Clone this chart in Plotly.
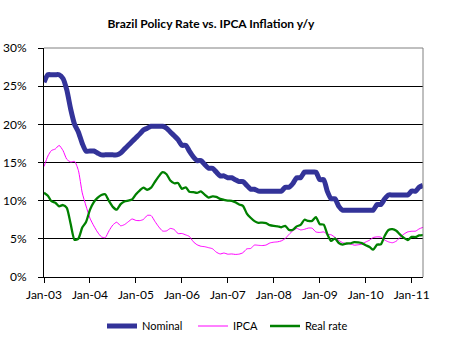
import pandas as pd
import plotly.graph_objects as go

# Monthly observations, Jan-2003 .. Apr-2011
start_month = "2003-01-01"
n_months = 100
months = pd.date_range(start_month, periods=n_months, freq="MS")

# Selic policy rate target (%)
nominal = [
    25.5, 26.5, 26.5, 26.5, 26.5, 26.0, 24.5, 22.0, 20.0, 19.0, 17.5, 16.5,
    16.5, 16.5, 16.25, 16.0, 16.0, 16.0, 16.0, 16.0, 16.25, 16.75, 17.25, 17.75,
    18.25, 18.75, 19.25, 19.5, 19.75, 19.75, 19.75, 19.75, 19.5, 19.0, 18.5, 18.0,
    17.25, 17.25, 16.5, 15.75, 15.25, 15.25, 14.75, 14.25, 14.25, 13.75, 13.25, 13.25,
    13.0, 13.0, 12.75, 12.5, 12.5, 12.0, 11.5, 11.5, 11.25, 11.25, 11.25, 11.25,
    11.25, 11.25, 11.25, 11.75, 11.75, 12.25, 13.0, 13.0, 13.75, 13.75, 13.75, 13.75,
    12.75, 12.75, 11.25, 10.25, 10.25, 9.25, 8.75, 8.75, 8.75, 8.75, 8.75, 8.75,
    8.75, 8.75, 8.75, 9.5, 9.5, 10.25, 10.75, 10.75, 10.75, 10.75, 10.75, 10.75,
    11.25, 11.25, 11.75, 12.0,
]

# IPCA consumer price inflation, year over year (%)
ipca = [
    14.47, 15.85, 16.57, 16.77, 17.24, 16.57, 15.43, 15.07, 15.14, 13.98, 11.02, 9.30,
    7.71, 6.69, 5.89, 5.26, 5.15, 6.06, 6.81, 7.18, 6.71, 6.86, 7.24, 7.60,
    7.41, 7.39, 7.54, 8.07, 8.05, 7.27, 6.57, 6.02, 6.04, 6.36, 6.22, 5.69,
    5.70, 5.51, 5.32, 4.63, 4.23, 4.03, 3.97, 3.84, 3.70, 3.26, 3.02, 3.14,
    2.99, 3.02, 2.96, 3.00, 3.18, 3.69, 3.74, 4.18, 4.15, 4.12, 4.19, 4.46,
    4.56, 4.61, 4.73, 5.04, 5.58, 6.06, 6.37, 6.17, 6.25, 6.41, 6.39, 5.90,
    5.84, 5.90, 5.61, 5.53, 5.20, 4.80, 4.50, 4.36, 4.34, 4.17, 4.22, 4.31,
    4.59, 4.83, 5.17, 5.26, 5.22, 4.84, 4.60, 4.49, 4.70, 5.20, 5.63, 5.91,
    5.99, 6.01, 6.30, 6.51,
]

# Real policy rate (%)
real_rate = [
    11.03, 10.65, 9.93, 9.73, 9.26, 9.43, 9.07, 6.93, 4.86, 5.02, 6.48, 7.20,
    8.79, 9.81, 10.36, 10.74, 10.85, 9.94, 9.19, 8.82, 9.54, 9.89, 10.01, 10.15,
    10.84, 11.36, 11.71, 11.43, 11.70, 12.48, 13.18, 13.73, 13.46, 12.64, 12.28, 12.31,
    11.55, 11.74, 11.18, 11.12, 11.02, 11.22, 10.78, 10.41, 10.55, 10.49, 10.23, 10.11,
    10.01, 9.98, 9.79, 9.50, 9.32, 8.31, 7.76, 7.32, 7.10, 7.13, 7.06, 6.79,
    6.69, 6.64, 6.52, 6.71, 6.17, 6.19, 6.63, 6.83, 7.50, 7.34, 7.36, 7.85,
    6.91, 6.85, 5.64, 4.72, 5.05, 4.45, 4.25, 4.39, 4.41, 4.58, 4.53, 4.44,
    4.16, 3.92, 3.58, 4.24, 4.28, 5.41, 6.15, 6.26, 6.05, 5.55, 5.12, 4.84,
    5.26, 5.24, 5.45, 5.49,
]

series_names = ["Nominal", "IPCA", "Real rate"]
y_ticks = [0, 5, 10, 15, 20, 25, 30]

FONT = "Lato, 'Open Sans', sans-serif"

W, H = 450, 346
M_L, M_R, M_T, M_B = 44, 27, 48, 69
PLOT_W = W - M_L - M_R
PLOT_H = H - M_T - M_B

styles = [("#333399", 5), ("#FF00FF", 1), ("#008000", 2.3)]
legend_ids = ["legend", "legend2", "legend3"]
legend_left_px = [102, 193, 265]   # left edge of each legend entry
legend_mid_px = 326                 # vertical centre of the legend row

fig = go.Figure()
for name, values, (color, width), lid in zip(series_names, [nominal, ipca, real_rate],
                                             styles, legend_ids):
    fig.add_trace(go.Scatter(
        x=months, y=values, name=name, mode="lines", legend=lid,
        line=dict(color=color, width=width, shape="spline", smoothing=0.6),
    ))

legend_common = dict(
    orientation="h", xanchor="left", yanchor="middle",
    y=-(legend_mid_px - (H - M_B)) / PLOT_H,
    font=dict(family=FONT, size=11, color="#000000"),
    bgcolor="rgba(0,0,0,0)", borderwidth=0, itemwidth=30,
)

fig.update_layout(
    width=W, height=H,
    margin=dict(l=M_L, r=M_R, t=M_T, b=M_B, autoexpand=False),
    paper_bgcolor="white", plot_bgcolor="white",
    font=dict(family=FONT, size=12, color="#000000"),
    title=dict(
        text="<b>Brazil Policy Rate vs. IPCA Inflation y/y</b>",
        x=211 / W, xanchor="center", xref="container",
        y=1 - 24 / H, yanchor="middle", yref="container",
        font=dict(family=FONT, size=12, color="#000000"),
    ),
    showlegend=True,
    legend=dict(x=(legend_left_px[0] - M_L) / PLOT_W, **legend_common),
    legend2=dict(x=(legend_left_px[1] - M_L) / PLOT_W, **legend_common),
    legend3=dict(x=(legend_left_px[2] - M_L) / PLOT_W, **legend_common),
)

fig.update_xaxes(
    range=[months[0], months[-1]],
    tickformat="%b-%y", dtick="M12", tick0=start_month,
    showgrid=False, zeroline=False,
    showline=True, linecolor="#000000", linewidth=1,
    ticks="outside", ticklen=5, tickcolor="#000000", ticklabelstandoff=2,
    tickfont=dict(family=FONT, size=12, color="#000000"),
)
fig.update_yaxes(
    range=[0, 30], tickvals=y_ticks, ticktext=[f"{v}%" for v in y_ticks],
    showgrid=True, gridcolor="#000000", gridwidth=1, zeroline=False,
    showline=True, linecolor="#000000", linewidth=1,
    ticks="outside", ticklen=5, tickcolor="#000000", ticklabelstandoff=9,
    tickfont=dict(family=FONT, size=12, color="#000000"),
)

# Grey plot-area border on the top and right edges
fig.add_shape(type="line", xref="paper", yref="paper", x0=0, x1=1, y0=1, y1=1,
              line=dict(color="#808080", width=1), layer="above")
fig.add_shape(type="line", xref="paper", yref="paper", x0=1, x1=1, y0=0, y1=1,
              line=dict(color="#808080", width=1), layer="above")

fig.write_html("out.html")
